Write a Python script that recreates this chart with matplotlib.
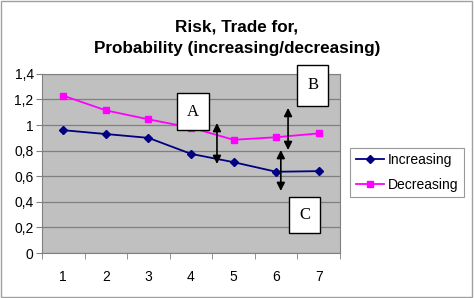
import matplotlib.pyplot as plt
from matplotlib.patches import Rectangle

plt.rcParams['font.family'] = ['Liberation Sans', 'DejaVu Sans']

cats = [1, 2, 3, 4, 5, 6, 7]
increasing = [0.96, 0.93, 0.90, 0.775, 0.71, 0.635, 0.64]
decreasing = [1.23, 1.115, 1.045, 0.98, 0.885, 0.905, 0.935]
yticks = [0, 0.2, 0.4, 0.6, 0.8, 1.0, 1.2, 1.4]
ylabels = ['0', '0,2', '0,4', '0,6', '0,8', '1', '1,2', '1,4']

fig = plt.figure(figsize=(4.74, 2.98), dpi=100)
ax = fig.add_axes([0.0886, 0.151, 0.6287, 0.601])
ax.set_facecolor('#C0C0C0')

ax.plot(cats, increasing, color='#000080', marker='D', markersize=4.5, lw=1.3, label='Increasing')
ax.plot(cats, decreasing, color='#FF00FF', marker='s', markersize=4.5, lw=1.3, label='Decreasing')

ax.set_xlim(0.5, 7.5)
ax.set_ylim(0, 1.4)
ax.set_yticks(yticks)
ax.set_yticklabels(ylabels, fontsize=10)
ax.set_xticks(cats)
ax.set_xticklabels([str(c) for c in cats], fontsize=10)
ax.set_xticks([c + 0.5 for c in range(0, 8)], minor=True)
ax.tick_params(axis='x', which='major', length=0, pad=12)
ax.tick_params(axis='x', which='minor', length=4, color='#808080')
ax.tick_params(axis='y', length=4, color='#808080', pad=2)
ax.grid(axis='y', color='#808080', lw=0.9)
ax.set_axisbelow(True)
for s in ax.spines.values():
    s.set_color('#808080')

fig.suptitle('Risk, Trade for,\nProbability (increasing/decreasing)',
             fontsize=12.3, fontweight='bold', y=0.935, x=0.5, linespacing=1.55)

# annotation boxes and arrows
boxes = [('A', 3.67, 0.96, 0.75, 0.29), ('B', 6.49, 1.15, 0.73, 0.32), ('C', 6.30, 0.156, 0.73, 0.282)]
for lab, x0, y0, w, h in boxes:
    ax.add_patch(Rectangle((x0, y0), w, h, facecolor='white', edgecolor='black', lw=1,
                           zorder=5, clip_on=False))
    ax.text(x0 + w / 2, y0 + h / 2, lab, ha='center', va='center', fontsize=12,
            family='Liberation Serif', zorder=6)

arrows = [(4.61, 1.016, 0.696), (6.28, 1.134, 0.805), (6.11, 0.805, 0.485)]
for x, y1, y2 in arrows:
    ax.annotate('', xy=(x, y1), xytext=(x, y2),
                arrowprops=dict(arrowstyle='<|-|>', color='black', lw=1.2,
                                mutation_scale=12, shrinkA=0, shrinkB=0), zorder=6)

leg = ax.legend(loc='center left', bbox_to_anchor=(1.035, 0.45), fontsize=10,
                frameon=True, fancybox=False, edgecolor='#808080', handlelength=2.0,
                borderpad=0.4, labelspacing=0.75, handletextpad=0.3, borderaxespad=0)
leg.get_frame().set_linewidth(0.8)

fig.patches.append(Rectangle((0.002, 0.005), 0.994, 0.99, transform=fig.transFigure,
                             fill=False, edgecolor='#A0A0A0', lw=1))

fig.savefig('out.png', dpi=100)
